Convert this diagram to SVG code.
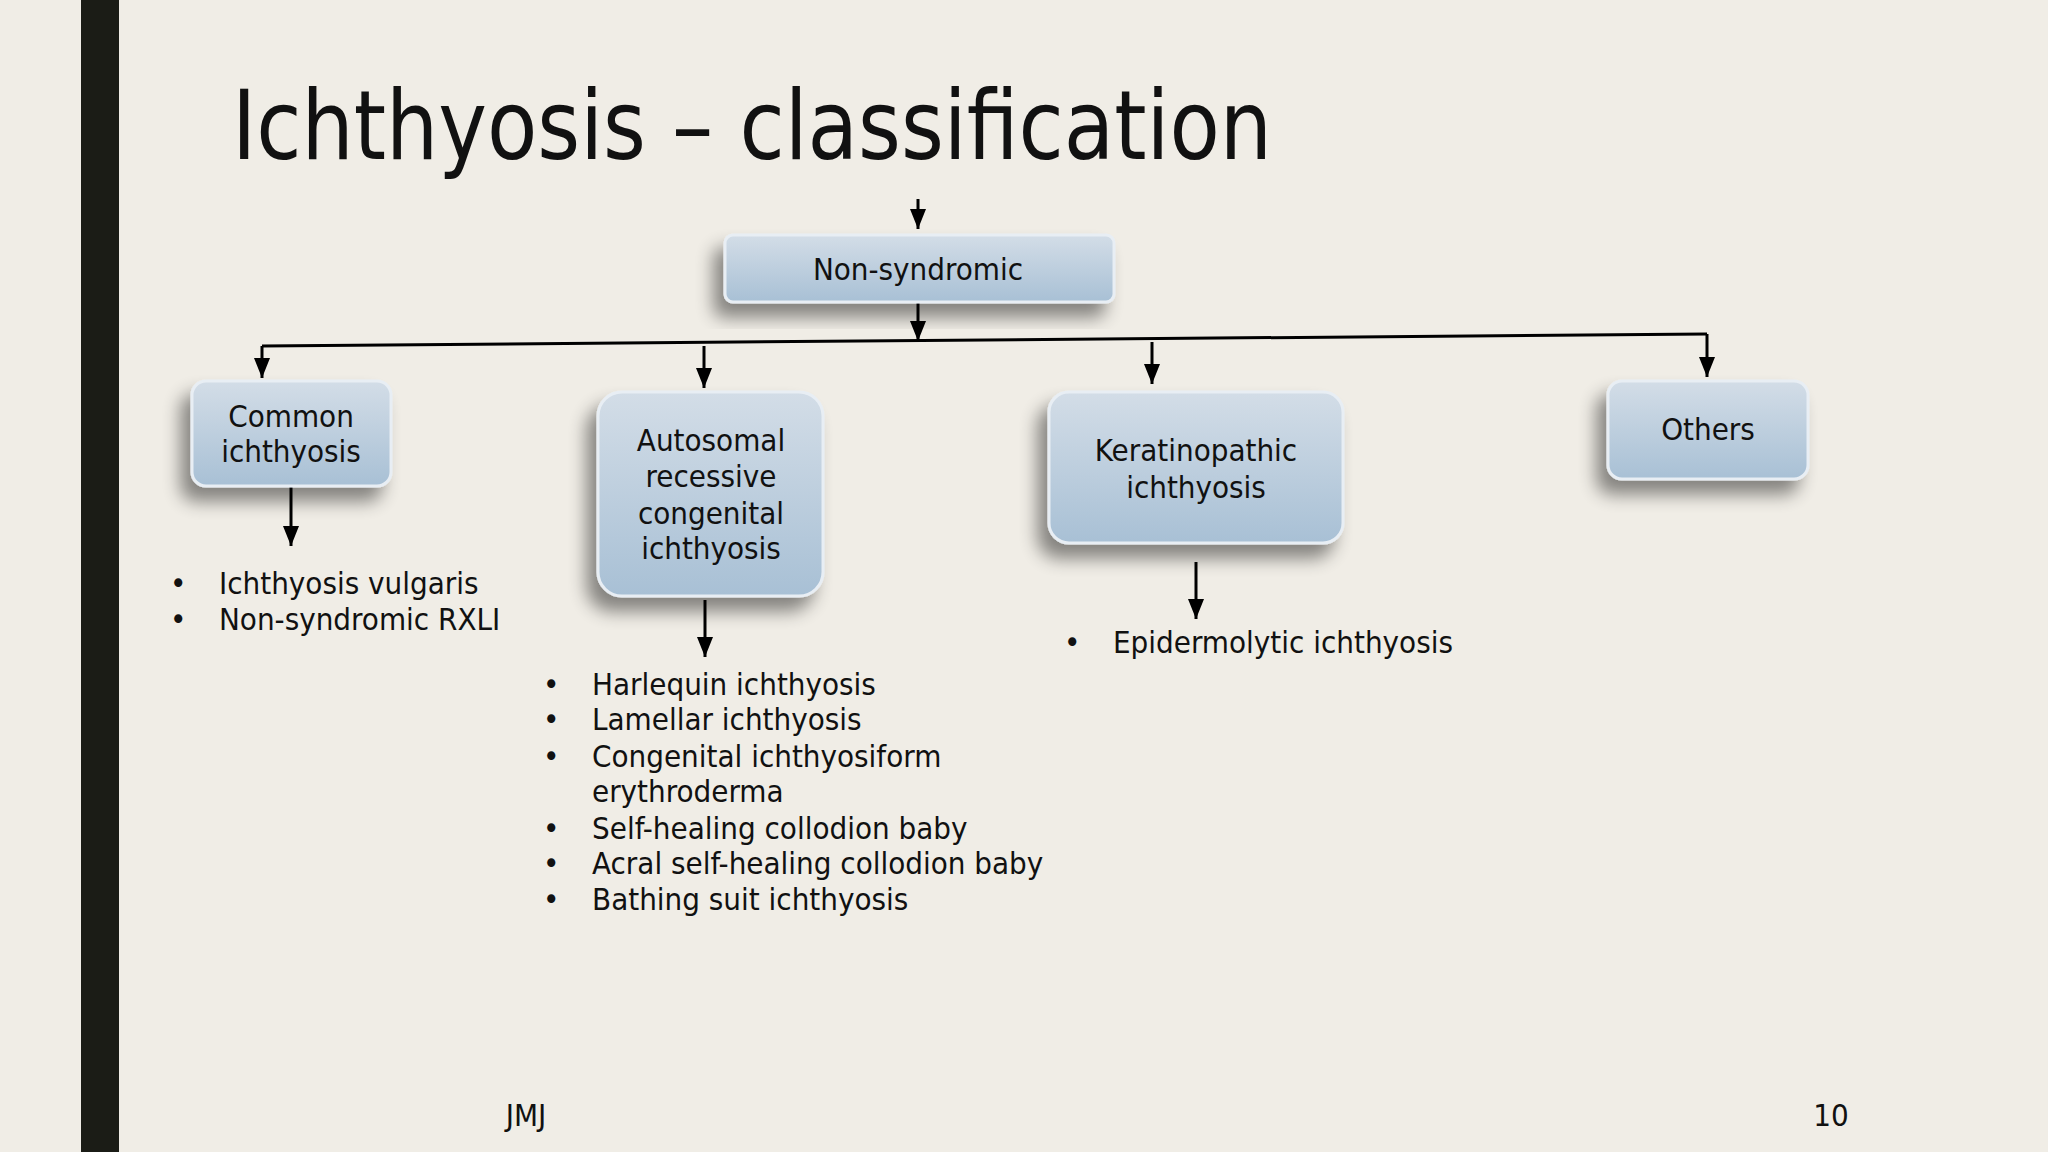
<svg xmlns="http://www.w3.org/2000/svg" width="2048" height="1152" viewBox="0 0 2048 1152">
<defs>
<linearGradient id="bx" x1="0" y1="0" x2="0" y2="1"><stop offset="0" stop-color="#d3dde7"/><stop offset="1" stop-color="#a8c0d5"/></linearGradient>
<filter id="sh" x="-30%" y="-30%" width="160%" height="170%"><feGaussianBlur in="SourceAlpha" stdDeviation="9"/><feOffset dx="-10" dy="14"/><feComponentTransfer><feFuncA type="linear" slope="0.45"/></feComponentTransfer><feMerge><feMergeNode/><feMergeNode in="SourceGraphic"/></feMerge></filter>
<marker id="ar" viewBox="0 0 10 10" refX="10" refY="5" markerWidth="5" markerHeight="5" markerUnits="userSpaceOnUse" orient="auto"><path d="M0,0 L10,5 L0,10 z" fill="#000"/></marker>
<marker id="a2" viewBox="0 0 10 10" refX="10" refY="5" markerWidth="20" markerHeight="16" markerUnits="userSpaceOnUse" orient="auto" preserveAspectRatio="none"><path d="M0,0 L10,5 L0,10 z" fill="#000"/></marker>
</defs>
<style>
.box{fill:url(#bx);stroke:#e8eef4;stroke-width:3;filter:url(#sh)}
.t{font-family:"DejaVu Sans Condensed","DejaVu Sans",sans-serif;font-size:31px;fill:#111}
.c{text-anchor:middle}
.ln{stroke:#000;stroke-width:3;fill:none}
.arw{stroke:#000;stroke-width:3;fill:none;marker-end:url(#a2)}
</style>
<rect width="2048" height="1152" fill="#f0ede6"/>
<rect x="81" y="0" width="38" height="1152" fill="#1b1c16"/>
<text x="232" y="159" font-family="DejaVu Sans Condensed,DejaVu Sans,sans-serif" font-size="96" fill="#111" textLength="1040" lengthAdjust="spacingAndGlyphs">Ichthyosis – classification</text>
<g id="connectors">
<line class="arw" x1="918" y1="199" x2="918" y2="229"/>
<line class="arw" x1="918" y1="302" x2="918" y2="341"/>
<line class="ln" x1="262" y1="346" x2="1707" y2="334"/>
<line class="arw" x1="262" y1="346" x2="262" y2="378"/>
<line class="arw" x1="704" y1="346" x2="704" y2="388"/>
<line class="arw" x1="1152" y1="342" x2="1152" y2="384"/>
<line class="arw" x1="1707" y1="334" x2="1707" y2="377"/>
<line class="arw" x1="291" y1="486" x2="291" y2="546"/>
<line class="arw" x1="705" y1="600" x2="705" y2="657"/>
<line class="arw" x1="1196" y1="562" x2="1196" y2="619"/>
</g>
<g id="nonsyndromic"><rect class="box" x="725" y="235" width="389" height="67" rx="8"/><text class="t c" x="918" y="280" font-size="34">Non-syndromic</text></g>
<g id="common"><rect class="box" x="192" y="381" width="199" height="105" rx="14"/><text class="t c" x="291" y="427">Common</text><text class="t c" x="291" y="462">ichthyosis</text></g>
<g id="arci"><rect class="box" x="598" y="392" width="225" height="204" rx="24"/><text class="t c" x="711" y="451">Autosomal</text><text class="t c" x="711" y="487">recessive</text><text class="t c" x="711" y="524">congenital</text><text class="t c" x="711" y="559">ichthyosis</text></g>
<g id="kera"><rect class="box" x="1049" y="392" width="294" height="151" rx="20"/><text class="t c" x="1196" y="461">Keratinopathic</text><text class="t c" x="1196" y="498">ichthyosis</text></g>
<g id="others"><rect class="box" x="1608" y="381" width="200" height="98" rx="14"/><text class="t c" x="1708" y="440">Others</text></g>
<g id="list1" class="t">
<text x="170" y="594" class="t">•</text><text x="219" y="594" class="t">Ichthyosis vulgaris</text>
<text x="170" y="630" class="t">•</text><text x="219" y="630" class="t">Non-syndromic RXLI</text>
</g>
<g id="list2">
<text x="543" y="695" class="t">•</text><text x="592" y="695" class="t">Harlequin ichthyosis</text>
<text x="543" y="730" class="t">•</text><text x="592" y="730" class="t">Lamellar ichthyosis</text>
<text x="543" y="767" class="t">•</text><text x="592" y="767" class="t">Congenital ichthyosiform</text>
<text x="592" y="802" class="t">erythroderma</text>
<text x="543" y="839" class="t">•</text><text x="592" y="839" class="t">Self-healing collodion baby</text>
<text x="543" y="874" class="t">•</text><text x="592" y="874" class="t">Acral self-healing collodion baby</text>
<text x="543" y="910" class="t">•</text><text x="592" y="910" class="t">Bathing suit ichthyosis</text>
</g>
<g id="list3"><text x="1064" y="653" class="t">•</text><text x="1113" y="653" class="t">Epidermolytic ichthyosis</text></g>
<text x="526" y="1126" class="t c" font-size="23">JMJ</text>
<text x="1831" y="1126" class="t c" font-size="23">10</text>
</svg>
